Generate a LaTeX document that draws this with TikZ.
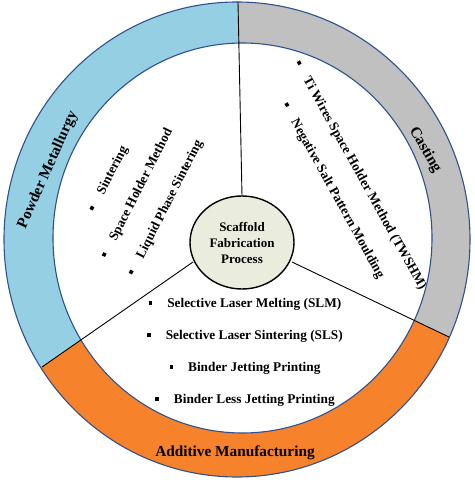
\documentclass[tikz,border=0pt]{standalone}
\usepackage{fontspec}
\setmainfont{Liberation Serif}
\usetikzlibrary{shapes.geometric}
\definecolor{pmblue}{HTML}{95CFE4}
\definecolor{cgray}{HTML}{C0C0C0}
\definecolor{amorange}{HTML}{F6832B}
\definecolor{ringedge}{HTML}{2F528F}
\definecolor{hubfill}{HTML}{EAEDDD}
\newcommand{\bsq}{\rule[3pt]{3.6pt}{3.6pt}\hspace{15pt}}
\tikzset{
  ringline/.style={draw=ringedge, line width=1.1pt},
  divline/.style={draw=black, line width=0.9pt},
  hub/.style={ellipse, draw=black, line width=1.4pt, fill=hubfill,
    minimum width=104pt, minimum height=93pt, inner sep=0pt, align=center,
    font=\bfseries\fontsize{13}{16}\selectfont},
  itemlist/.style={align=center, inner sep=0pt, font=\bfseries\fontsize{13.3}{32}\selectfont},
  ringlabel/.style={inner sep=0pt, font=\bfseries\fontsize{15.3}{18}\selectfont}
}
\begin{document}
\begin{tikzpicture}[x=1pt,y=1pt]
\useasboundingbox (0,0) rectangle (474,482);
\coordinate (tIn) at (242,286);
\coordinate (tOut) at (238,480);
\coordinate (lIn) at (193,220);
\coordinate (lOut) at (42,115);
\coordinate (rIn) at (292,220);
\coordinate (rOut) at (449,145);
\begin{scope}[even odd rule]
  \clip (237,242.5) ellipse [x radius=233, y radius=237.5]
        (242.5,244) ellipse [x radius=189.5, y radius=195];
  \fill[amorange] (-10,-10) rectangle (490,500);
  \fill[pmblue] (237.6,500) -- (-10,500) -- (-10,78.8) -- (lOut) -- (lIn) -- (tIn) -- cycle;
  \fill[cgray] (237.6,500) -- (490,500) -- (490,125.4) -- (rOut) -- (rIn) -- (tIn) -- cycle;
\end{scope}
\draw[ringline] (237,242.5) ellipse [x radius=233, y radius=237.5];
\draw[ringline] (242.5,244) ellipse [x radius=189.5, y radius=195];
\draw[divline] (tIn) -- (tOut);
\draw[divline] (lIn) -- (lOut);
\draw[divline] (rIn) -- (rOut);
\node[hub] (hub) at (242,239.5) {Scaffold\\Fabrication\\Process};

\node[ringlabel, rotate=66] (pm) at (48,312) {Powder Metallurgy};
\node[ringlabel, rotate=-60] (cast) at (425,332) {Casting};
\node[ringlabel] (am) at (235,29) {Additive Manufacturing};

\node[itemlist, rotate=63] (pmlist) at (137.2,288.7)
  {\bsq Sintering\\ \bsq Space Holder Method\\ \bsq Liquid Phase Sintering};
\node[itemlist, rotate=-61, font=\bfseries\fontsize{13.3}{31}\selectfont] (castlist) at (346.3,298.8)
  {\bsq Ti Wires Space Holder Method (TWSHM)\\ \bsq Negative Salt Pattern Moulding};
\node[itemlist] (amlist) at (245,129.5)
  {\bsq Selective Laser Melting (SLM)\\ \bsq Selective Laser Sintering (SLS)\\ \bsq Binder Jetting Printing\\ \bsq Binder Less Jetting Printing};
\end{tikzpicture}
\end{document}
